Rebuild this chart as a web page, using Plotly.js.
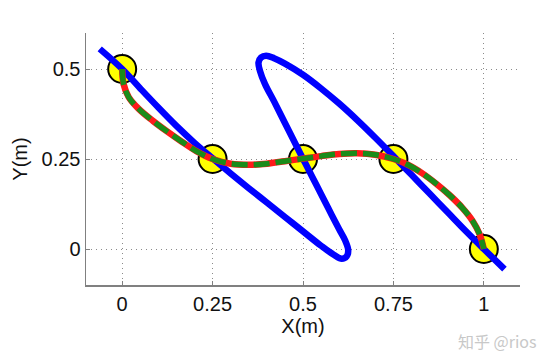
<!DOCTYPE html>
<html>
<head>
<meta charset="utf-8">
<script src="https://cdn.plot.ly/plotly-3.0.1.min.js"></script>
<style>html,body{margin:0;padding:0;background:#fff;}#chart{width:554px;height:364px;}</style>
</head>
<body>
<div id="chart"></div>
<script>
// Waypoints (yellow circles)
const waypointX = [0, 0.25, 0.5, 0.75, 1];
const waypointY = [0.5, 0.25, 0.25, 0.25, 0];

// Blue trajectory
const blueX = [-0.062, 0.0, 0.05, 0.1, 0.15, 0.2, 0.25, 0.3, 0.35, 0.4, 0.45, 0.5, 0.55, 0.585, 0.607, 0.621, 0.625, 0.616,
               0.6, 0.57, 0.54, 0.51, 0.48, 0.45, 0.42, 0.395, 0.381, 0.377, 0.384, 0.398, 0.42, 0.45,
               0.5, 0.55, 0.6, 0.65, 0.7, 0.75, 0.8, 0.85, 0.9, 0.95, 1.0, 1.057];
const blueY = [0.556, 0.5, 0.446, 0.393, 0.342, 0.295, 0.252, 0.21, 0.169, 0.129, 0.089, 0.049, 0.009, -0.016, -0.027, -0.02, -0.003, 0.025,
               0.055, 0.113, 0.172, 0.231, 0.29, 0.35, 0.41, 0.458, 0.495, 0.518, 0.532, 0.537, 0.53, 0.515,
               0.484, 0.446, 0.404, 0.358, 0.309, 0.258, 0.206, 0.154, 0.102, 0.05, 0.0, -0.056];

// Smooth path through waypoints (red solid + green dashed)
const smoothX = [0, 0.004, 0.018, 0.045, 0.085, 0.125, 0.165, 0.205, 0.25, 0.3, 0.35, 0.4, 0.45, 0.5,
                 0.55, 0.6, 0.65, 0.7, 0.75, 0.79, 0.83, 0.87, 0.905, 0.94, 0.969, 0.988, 1];
const smoothY = [0.5, 0.458, 0.422, 0.39, 0.356, 0.326, 0.298, 0.272, 0.25, 0.237, 0.234, 0.237, 0.244, 0.251,
                 0.258, 0.264, 0.266, 0.262, 0.25, 0.234, 0.21, 0.18, 0.15, 0.115, 0.078, 0.042, 0];

const xTicks = [0, 0.25, 0.5, 0.75, 1];
const xTickText = ['0', '0.25', '0.5', '0.75', '1'];
const yTicks = [0, 0.25, 0.5];
const yTickText = ['0', '0.25', '0.5'];

const traces = [
  {x: waypointX, y: waypointY, type: 'scatter', mode: 'markers',
   marker: {size: 28, color: '#ffff00', line: {color: '#000', width: 2}}, hoverinfo: 'skip'},
  {x: blueX, y: blueY, type: 'scatter', mode: 'lines',
   line: {color: '#0000ff', width: 6.5, shape: 'spline', smoothing: 1}, hoverinfo: 'skip'},
  {x: smoothX, y: smoothY, type: 'scatter', mode: 'lines',
   line: {color: '#ff1a1a', width: 6.5, shape: 'spline', smoothing: 1}, hoverinfo: 'skip'},
  {x: smoothX, y: smoothY, type: 'scatter', mode: 'lines',
   line: {color: '#1a8c1a', width: 5.5, shape: 'spline', smoothing: 1, dash: '16px,6px'}, hoverinfo: 'skip'}
];

const axisCommon = {
  showline: true, linecolor: '#808080', linewidth: 1.5,
  ticks: 'inside', ticklen: 4, tickcolor: '#808080', tickwidth: 1,
  showgrid: true, gridcolor: '#8a8a8a', gridwidth: 1, griddash: '1px,4px',
  zeroline: false, mirror: false,
  tickfont: {family: 'Liberation Sans, Arial, sans-serif', size: 20, color: '#111'},
  title: {font: {family: 'Liberation Sans, Arial, sans-serif', size: 20, color: '#111'}}
};

const layout = {
  width: 554, height: 364,
  margin: {l: 86, r: 34, t: 33, b: 79},
  paper_bgcolor: '#fff', plot_bgcolor: '#fff',
  showlegend: false,
  xaxis: Object.assign({}, axisCommon, {
    range: [-0.1, 1.1], tickmode: 'array', tickvals: xTicks, ticktext: xTickText,
    title: {text: 'X(m)', standoff: 0, font: axisCommon.title.font}
  }),
  yaxis: Object.assign({}, axisCommon, {
    range: [-0.1, 0.6], tickmode: 'array', tickvals: yTicks, ticktext: yTickText,
    title: {text: 'Y(m)', standoff: 8, font: axisCommon.title.font}
  }),
  annotations: [{
    text: '知乎 @rios', xref: 'paper', yref: 'paper', x: 0.949, y: -0.222,
    xanchor: 'center', yanchor: 'middle', showarrow: false,
    font: {family: 'Noto Sans CJK SC, sans-serif', size: 16, color: '#c8c8c8'}
  }]
};

Plotly.newPlot('chart', traces, layout, {staticPlot: true, displayModeBar: false});
</script>
</body>
</html>
